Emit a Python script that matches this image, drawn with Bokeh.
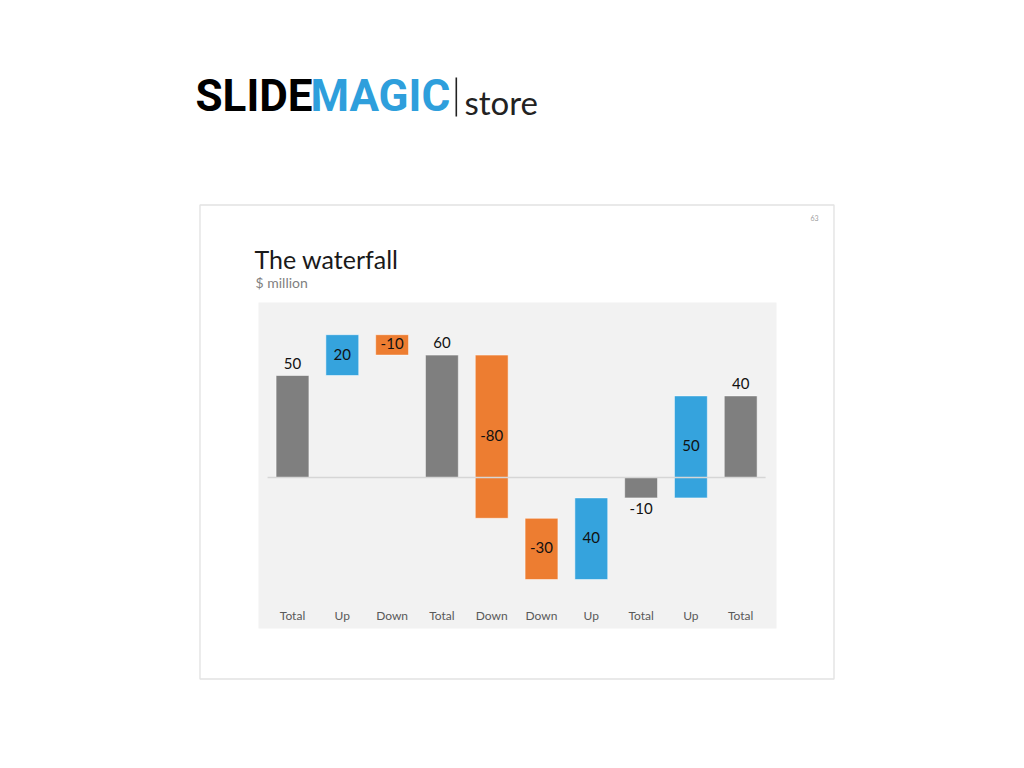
from bokeh.plotting import figure
from bokeh.models import Range1d, Label, BoxAnnotation, ColumnDataSource
from bokeh.core.properties import value
from bokeh.embed import file_html
from bokeh.resources import INLINE

# ---- data ----
categories = ["Total", "Up", "Down", "Total", "Down", "Down", "Up", "Total", "Up", "Total"]
values = [50, 20, -10, 60, -80, -30, 40, -10, 50, 40]
colors_by_kind = {"Total": "#7F7F7F", "Up": "#35A3DD", "Down": "#ED7D31"}

# waterfall geometry
bottoms, tops, label_y, label_base, label_off = [], [], [], [], []
running = 0
for kind, v in zip(categories, values):
    if kind == "Total":
        b, t = 0, v
        running = v
    else:
        b, t = running, running + v
        running = running + v
    bottoms.append(min(b, t))
    tops.append(max(b, t))
    if kind == "Total":
        if v >= 0:
            label_y.append(max(b, t)); label_base.append("bottom"); label_off.append(-7)
        else:
            label_y.append(min(b, t)); label_base.append("top"); label_off.append(5)
    else:
        label_y.append((b + t) / 2); label_base.append("middle"); label_off.append(-1)

xs = list(range(len(categories)))
src = ColumnDataSource(dict(
    x=xs, top=tops, bottom=bottoms,
    color=[colors_by_kind[k] for k in categories],
    txt=[str(v) for v in values],
    ly=label_y, lbase=label_base, loff=label_off,
    cat=categories,
))

# ---- layout (page pixels) ----
W, H = 1008, 752
CHART_L, CHART_T, CHART_R, CHART_B = 258, 302, 776, 628   # grey chart panel
STEP_PX = 49.8          # distance between category centres
X0_PX = 292             # centre of first category
ZERO_PX = 477           # y of the zero line
UNIT_PX = 2.04          # pixels per $ million

p = figure(width=W, height=H, output_backend="svg", toolbar_location=None,
           x_range=Range1d((0 - X0_PX) / STEP_PX, (W - X0_PX) / STEP_PX),
           y_range=Range1d(-(H - ZERO_PX) / UNIT_PX, ZERO_PX / UNIT_PX),
           min_border=0, min_border_left=0, min_border_right=0,
           min_border_top=0, min_border_bottom=0)
p.background_fill_color = "white"
p.border_fill_color = "white"
p.outline_line_color = None
p.xgrid.visible = False
p.ygrid.visible = False
p.xaxis.visible = False
p.yaxis.visible = False

def sx(px):
    return px

def sy(py):
    return H - py

def box(l, t, r, b, **kw):
    p.add_layout(BoxAnnotation(left=sx(l), right=sx(r), top=sy(t), bottom=sy(b),
                               left_units="screen", right_units="screen",
                               top_units="screen", bottom_units="screen",
                               level="underlay", **kw))

# grey chart panel
box(CHART_L, CHART_T, CHART_R, CHART_B, fill_color="#F2F2F2", fill_alpha=1, line_color=None)
# slide border
box(199.5, 204.5, 833.5, 678.5, fill_alpha=0, line_color="#A3A3A3", line_width=1.4)

p.vbar(x="x", width=0.66, top="top", bottom="bottom", fill_color="color",
       line_color="white", line_alpha=0.5, line_width=1, source=src)
p.segment(x0=[-0.5], x1=[len(categories) - 0.5], y0=[0], y1=[0],
          line_color="#D6D6D6", line_width=1.5)

p.text(x="x", y="ly", text="txt", text_baseline="lbase", y_offset="loff",
       text_align="center", text_font=value("Lato"), text_font_size="15px",
       text_color="#111111", source=src)
cat_y = -(615 - ZERO_PX) / UNIT_PX
p.text(x="x", y=cat_y, text="cat", text_baseline="middle", text_align="center",
       text_font=value("Lato"), text_font_size="12px", text_color="#595959", source=src)

def lab(text, x, y, size, color, font="Lato", style="normal", baseline="middle", align="left"):
    p.add_layout(Label(x=sx(x), y=sy(y), x_units="screen", y_units="screen", text=text,
                       text_font=font, text_font_size=size, text_color=color,
                       text_font_style=style, text_baseline=baseline, text_align=align))

# logo
lab("SLIDE", 195, 95, "44px", "#000000", font="Roboto", style="bold")
lab("MAGIC", 310, 95, "44px", "#2E9FDC", font="Roboto", style="bold")
box(455, 77, 456.6, 116, fill_color="#222222", fill_alpha=1, line_color=None)
lab("store", 464, 101, "33px", "#222222", font="Lato")

# titles
lab("The waterfall", 254, 258, "25px", "#1A1A1A")
lab("$ million", 255, 282, "14px", "#7F7F7F")
lab("63", 814, 217, "7px", "#A0A0A0", align="center")

open("out.html", "w").write(file_html(p, INLINE))
